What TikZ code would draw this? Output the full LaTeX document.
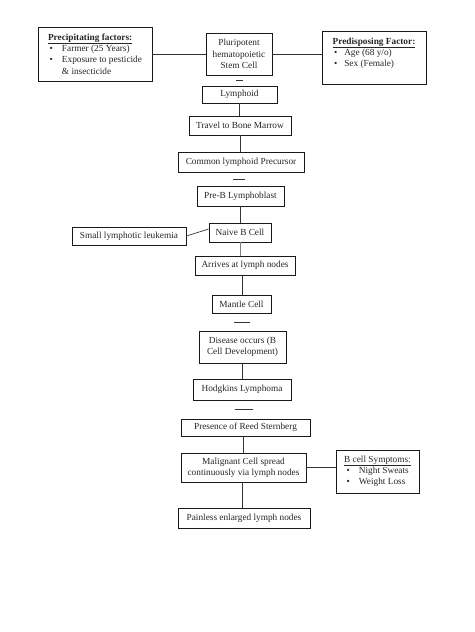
\documentclass[tikz,border=0pt]{standalone}
\usepackage{fontspec}
\setmainfont{Liberation Serif}
\usetikzlibrary{calc}
\def\pxu{1.2911pt}
\newcommand\bulA{\makebox[18pt][l]{\hspace{2pt}\textbullet}}
\newcommand\bulB{\makebox[15pt][l]{\hspace{2pt}\textbullet}}
\newcommand\bulC{\makebox[19pt][l]{\hspace{3pt}\textbullet}}
\tikzset{
  box/.style={draw=black!90, line width=1pt, inner sep=2pt, align=center,
    text=black!85, font=\fontsize{12}{14.5}\selectfont},
  conn/.style={draw=black!80, line width=0.9pt},
}
\begin{document}
\begin{tikzpicture}[x=1.2911pt, y=-1.2911pt]
\useasboundingbox (0,0) rectangle (474,632);
\fill[white] (0,0) rectangle (474,632);

\node[box, minimum width=114*\pxu, minimum height=54*\pxu, align=left] (pre) at (95,54)
  {\textbf{\underline{Precipitating factors:}}\\
   \bulA Farmer (25 Years)\\
   \bulA Exposure to pesticide\\
   \hspace*{18pt}\& insecticide};
\node[box, minimum width=66*\pxu, minimum height=42*\pxu] (stem) at (239,54) {Pluripotent\\hematopoietic\\Stem Cell};
\node[box, minimum width=104*\pxu, minimum height=53*\pxu, align=left] (pred) at (374,57.5)
  {\textbf{\underline{Predisposing Factor:}}\\
   \bulB Age (68 y/o)\\
   \bulB Sex (Female)\\[-1pt]
   \mbox{}};
\node[box, minimum width=75*\pxu, minimum height=17*\pxu] (lym) at (239.5,94.5) {Lymphoid};
\node[box, minimum width=102*\pxu, minimum height=19*\pxu] (trav) at (240,125.5) {Travel to Bone Marrow};
\node[box, minimum width=126*\pxu, minimum height=20*\pxu] (clp) at (241,162) {Common lymphoid Precursor};
\node[box, minimum width=87*\pxu, minimum height=20*\pxu] (preb) at (240.5,196) {Pre-B Lymphoblast};
\node[box, minimum width=62*\pxu, minimum height=19*\pxu] (naive) at (240,232.5) {Naive B Cell};
\node[box, minimum width=114*\pxu, minimum height=18*\pxu] (small) at (129,236) {Small lymphotic leukemia};
\node[box, minimum width=100*\pxu, minimum height=19*\pxu] (arr) at (245,265.5) {Arrives at lymph nodes};
\node[box, minimum width=59*\pxu, minimum height=18*\pxu] (mantle) at (241.5,304) {Mantle Cell};
\node[box, minimum width=87*\pxu, minimum height=32*\pxu] (dis) at (242.5,347) {Disease occurs (B\\Cell Development)};
\node[box, minimum width=98*\pxu, minimum height=21*\pxu] (hodg) at (242,389.5) {Hodgkins Lymphoma};
\node[box, minimum width=129*\pxu, minimum height=17*\pxu] (pres) at (245.5,427.5) {Presence of Reed Sternberg};
\node[box, minimum width=125*\pxu, minimum height=29*\pxu] (mal) at (243.5,467.5) {Malignant Cell spread\\continuously via lymph nodes};
\node[box, minimum width=83*\pxu, minimum height=43*\pxu, align=left] (bcell) at (377.5,471.5)
  {\underline{B cell Symptoms:}\\
   \bulC Night Sweats\\
   \bulC Weight Loss};
\node[box, minimum width=132*\pxu, minimum height=20*\pxu] (pain) at (244,518) {Painless enlarged lymph nodes};

% horizontal connectors
\draw[conn] (stem.west) -- (stem.west -| pre.east);
\draw[conn] (stem.east) -- (stem.east -| pred.west);
\draw[conn] (mal.east) -- (mal.east -| bcell.west);
\draw[conn] (small.east) -- ($(naive.west)+(0,-3.5)$);

% vertical connectors
\draw[conn] (lym.south) -- (lym.south |- trav.north);
\draw[conn] (trav.south) -- (trav.south |- clp.north);
\draw[conn] (preb.south) -- (preb.south |- naive.north);
\draw[conn, draw=black!50] (naive.south) -- (naive.south |- arr.north);
\draw[conn] ([xshift=-3]arr.south) -- ([xshift=-3]arr.south |- mantle.north);
\draw[conn] (dis.south) -- (dis.south |- hodg.north);
\draw[conn] ([xshift=-3]pres.south) -- ([xshift=-3]pres.south |- mal.north);
\draw[conn] ([xshift=-2]mal.south) -- ([xshift=-2]mal.south |- pain.north);

% short dashes between some boxes
\coordinate (d1) at ($(stem.south)!0.5!(lym.north)$);
\draw[conn] ($(d1)+(-3,0)$) -- ($(d1)+(4,0)$);
\coordinate (d2) at ($(clp.south)!0.5!(preb.north)$);
\draw[conn] ($(d2)+(-8,0)$) -- ($(d2)+(4,0)$);
\coordinate (d3) at ($(mantle.south)!0.5!(dis.north)$);
\draw[conn] ($(d3)+(-8,0)$) -- ($(d3)+(8,0)$);
\coordinate (d4) at ($(hodg.south)!0.5!(pres.north)$);
\draw[conn] ($(d4)+(-9,0)$) -- ($(d4)+(9,0)$);
\end{tikzpicture}
\end{document}
